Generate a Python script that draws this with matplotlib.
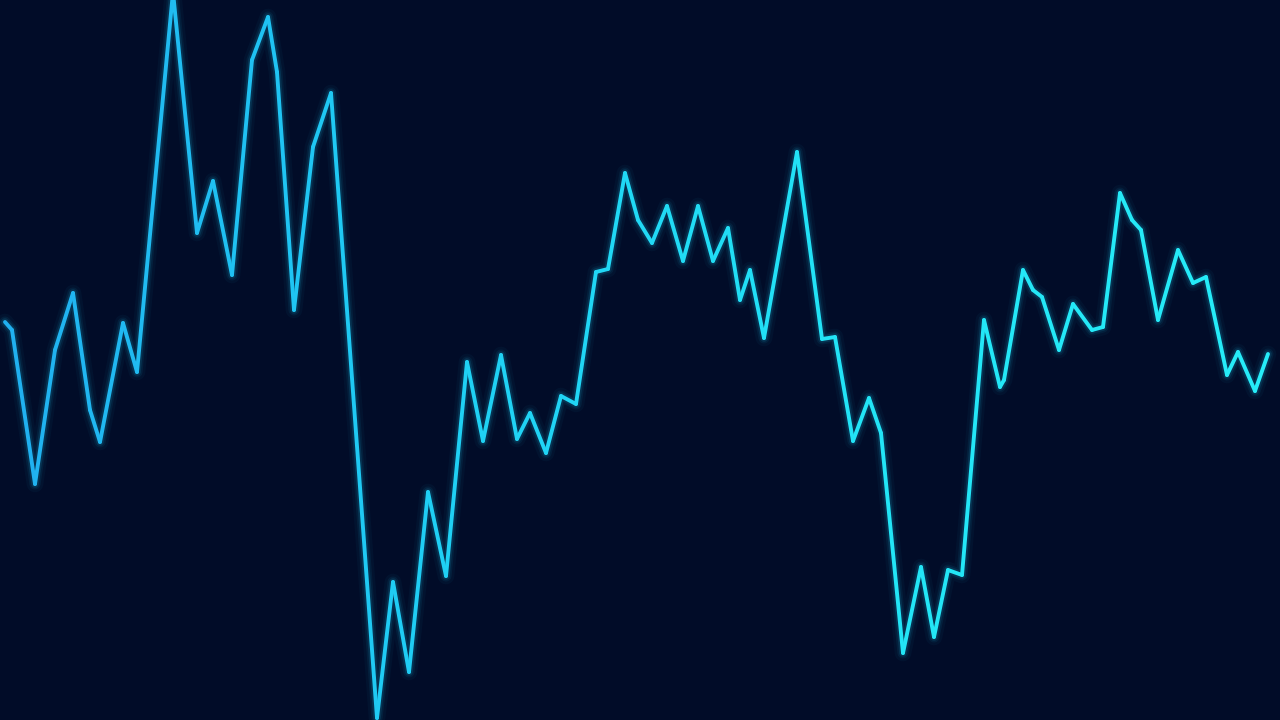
import numpy as np
from matplotlib import pyplot as plt
from matplotlib.collections import LineCollection
from matplotlib.colors import LinearSegmentedColormap

X = np.array([5, 12, 35, 55, 73, 90, 100, 123, 137, 173, 197, 213, 232, 252,
              268, 277, 294, 313, 331, 377, 393, 409, 428, 446, 467, 483,
              501, 517, 530, 546, 561, 576, 596, 608, 625, 638, 652, 667,
              683, 698, 713, 728, 740, 750, 764, 797, 822, 835, 853, 869,
              881, 903, 921, 934, 948, 962, 984, 1000, 1004, 1023, 1033,
              1042, 1059, 1073, 1092, 1103, 1120, 1132, 1141, 1158, 1178,
              1193, 1206, 1227, 1238, 1255, 1268])
Y = 720 - np.array([322, 330, 484, 350, 293, 410, 442, 323, 372, -8, 233,
                    181, 275, 60, 17, 72, 310, 147, 93, 718, 582, 672, 492,
                    576, 362, 441, 355, 439, 413, 453, 396, 404, 272, 269,
                    173, 220, 243, 206, 261, 206, 261, 228, 300, 270, 338,
                    152, 339, 337, 441, 398, 433, 653, 567, 637, 570, 575,
                    320, 387, 380, 270, 290, 297, 350, 304, 330, 327, 193,
                    220, 230, 320, 250, 283, 277, 375, 352, 391, 354])

bg = '#010c28'
cmap = LinearSegmentedColormap.from_list('glow', ['#20b0f0', '#1fcef4', '#22e4f6', '#26ecf8'])

fig = plt.figure(figsize=(12.8, 7.2), dpi=100, facecolor=bg)
ax = fig.add_axes([0, 0, 1, 1])
ax.set_facecolor(bg)

pts = np.column_stack([X, Y]).reshape(-1, 1, 2)
segs = np.concatenate([pts[:-1], pts[1:]], axis=1)
t = (X[:-1] + X[1:]) / 2 / 1280

# soft glow under the line
for lw, a in [(12, 0.04), (8, 0.07), (5.5, 0.12)]:
    ax.plot(X, Y, color='#1cc8f2', lw=lw, alpha=a,
            solid_joinstyle='round', solid_capstyle='round')

lc = LineCollection(segs, cmap=cmap, linewidths=2.8, joinstyle='miter', capstyle='round')
lc.set_array(t)
lc.set_clim(0, 1)
ax.add_collection(lc)

ax.set_xlim(0, 1280)
ax.set_ylim(0, 720)
ax.axis('off')

fig.savefig('out.png', dpi=100, facecolor=bg)
